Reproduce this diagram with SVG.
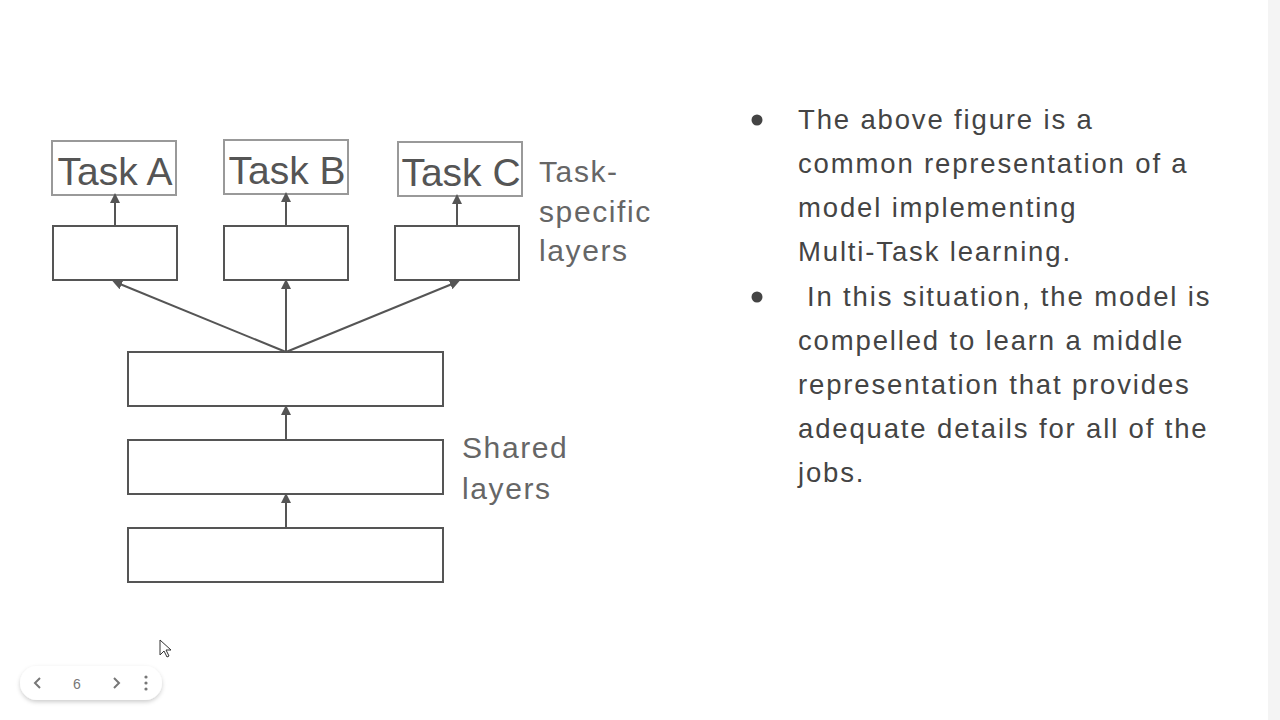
<svg xmlns="http://www.w3.org/2000/svg" width="1280" height="720" viewBox="0 0 1280 720">
<defs>
<style>
.box{fill:#fff;stroke:#555;stroke-width:2}
.tbox{fill:#fff;stroke:#999;stroke-width:2}
.con{stroke:#555;stroke-width:2;fill:none;marker-end:url(#ah)}
.lbl{font-family:"Liberation Sans",Arial,sans-serif;font-size:39px;fill:#555}
.side{font-family:"Liberation Sans",Arial,sans-serif;font-size:30px;fill:#666;letter-spacing:1.6px}
.body{font-family:"Liberation Sans",Arial,sans-serif;font-size:27.5px;fill:#444;letter-spacing:1.85px}
</style>
<marker id="ah" markerWidth="10" markerHeight="10" refX="7" refY="5" orient="auto" markerUnits="userSpaceOnUse"><path d="M0,0 L10,5 L0,10 z" fill="#555"/></marker>
<filter id="sh" x="-10%" y="-30%" width="120%" height="180%"><feDropShadow dx="0" dy="2" stdDeviation="2" flood-opacity="0.2"/></filter>
</defs>
<rect width="1280" height="720" fill="#fff"/>
<rect x="1268" y="0" width="12" height="720" fill="#f4f4f4"/>
<g id="taskA"><rect class="tbox" x="52" y="141" width="124" height="54"/><text class="lbl" x="115" y="185" text-anchor="middle">Task A</text></g>
<g id="taskB"><rect class="tbox" x="224" y="140" width="124" height="54"/><text class="lbl" x="287" y="184" text-anchor="middle">Task B</text></g>
<g id="taskC"><rect class="tbox" x="398" y="142" width="124" height="54"/><text class="lbl" x="461" y="186" text-anchor="middle">Task C</text></g>
<g id="specA"><rect class="box" x="53" y="226" width="124" height="54"/></g>
<g id="specB"><rect class="box" x="224" y="226" width="124" height="54"/></g>
<g id="specC"><rect class="box" x="395" y="226" width="124" height="54"/></g>
<g id="shared3"><rect class="box" x="128" y="352" width="315" height="54"/></g>
<g id="shared2"><rect class="box" x="128" y="440" width="315" height="54"/></g>
<g id="shared1"><rect class="box" x="128" y="528" width="315" height="54"/></g>
<g id="labels">
<text class="side" x="539" y="182">Task-</text>
<text class="side" x="539" y="222">specific</text>
<text class="side" x="539" y="261">layers</text>
<text class="side" x="462" y="458">Shared</text>
<text class="side" x="462" y="499">layers</text>
</g>
<g id="connectors">
<line class="con" x1="115" y1="226" x2="115" y2="196"/>
<line class="con" x1="286" y1="226" x2="286" y2="195"/>
<line class="con" x1="457" y1="226" x2="457" y2="197"/>
<line class="con" x1="286" y1="352" x2="115" y2="282"/>
<line class="con" x1="286" y1="352" x2="286" y2="282"/>
<line class="con" x1="286" y1="352" x2="457" y2="282"/>
<line class="con" x1="286" y1="440" x2="286" y2="408"/>
<line class="con" x1="286" y1="528" x2="286" y2="496"/>
</g>
<g id="bullets">
<circle cx="757" cy="120" r="5.5" fill="#444"/>
<text class="body" x="798" y="129">The above figure is a</text>
<text class="body" x="798" y="173">common representation of a</text>
<text class="body" x="798" y="217">model implementing</text>
<text class="body" x="798" y="261">Multi-Task learning.</text>
<circle cx="757" cy="297" r="5.5" fill="#444"/>
<text class="body" x="807" y="306">In this situation, the model is</text>
<text class="body" x="798" y="350">compelled to learn a middle</text>
<text class="body" x="798" y="394">representation that provides</text>
<text class="body" x="798" y="438">adequate details for all of the</text>
<text class="body" x="798" y="482">jobs.</text>
</g>
<g id="nav">
<rect x="20" y="666" width="142" height="34" rx="17" fill="#fff" filter="url(#sh)"/>
<path d="M40,678 L35,683 L40,688" stroke="#777" stroke-width="2" fill="none"/>
<text x="77" y="689" font-family="Liberation Sans,Arial,sans-serif" font-size="14" fill="#777" text-anchor="middle">6</text>
<path d="M114,678 L119,683 L114,688" stroke="#777" stroke-width="2" fill="none"/>
<circle cx="146" cy="677" r="1.6" fill="#777"/><circle cx="146" cy="683" r="1.6" fill="#777"/><circle cx="146" cy="689" r="1.6" fill="#777"/>
</g>
<path d="M160,640 L160,655 L164,651 L167,657 L169,656 L166,650 L171,650 Z" fill="#fff" stroke="#333" stroke-width="1"/>
</svg>
